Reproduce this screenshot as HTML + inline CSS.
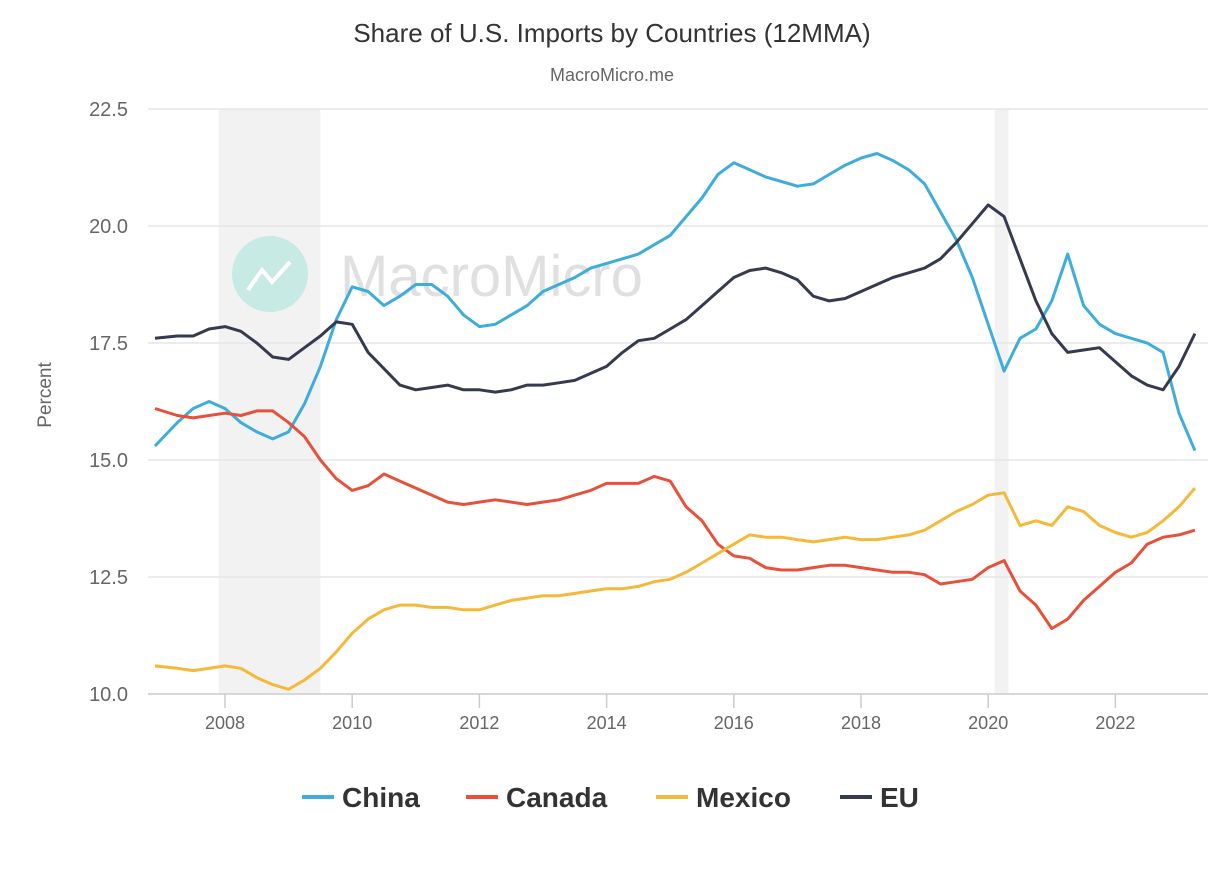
<!DOCTYPE html>
<html><head><meta charset="utf-8"><style>
body{margin:0;background:#fff;font-family:"Liberation Sans",Arial,sans-serif;}
svg text{font-family:"Liberation Sans",Arial,sans-serif;}
</style></head><body>
<svg id="chart" width="1224" height="880" viewBox="0 0 1224 880" xmlns="http://www.w3.org/2000/svg">
<text x="612" y="42" text-anchor="middle" font-size="26" fill="#333">Share of U.S. Imports by Countries (12MMA)</text>
<text x="612" y="81" text-anchor="middle" font-size="18" fill="#666">MacroMicro.me</text>
<g id="shades"></g>
<g>
<circle cx="270" cy="274" r="38" fill="#bfe9e3" opacity="0.85"/>
<polyline points="248,290 262,270 272,282 290,262" fill="none" stroke="#fff" stroke-width="4"/>
<text x="340" y="296" font-size="58" fill="#e0e0e0">MacroMicro</text>
</g>
<g id="grid"></g>
<g id="series"></g>
<text transform="translate(51,395) rotate(-90)" text-anchor="middle" font-size="19" fill="#666">Percent</text>
<g font-size="28" font-weight="bold" fill="#333">
<g><line x1="302" y1="797" x2="334" y2="797" stroke="#3eadd9" stroke-width="4"/><text x="342" y="807">China</text></g>
<g><line x1="466" y1="797" x2="498" y2="797" stroke="#e7513a" stroke-width="4"/><text x="506" y="807">Canada</text></g>
<g><line x1="656" y1="797" x2="688" y2="797" stroke="#f5b93a" stroke-width="4"/><text x="696" y="807">Mexico</text></g>
<g><line x1="840" y1="797" x2="872" y2="797" stroke="#363a4e" stroke-width="4"/><text x="880" y="807">EU</text></g>
</g>
</svg>
<script>
const yTicks=[10.0,12.5,15.0,17.5,20.0,22.5];
const xTicks=[2008,2010,2012,2014,2016,2018,2020,2022];
const recessions=[[2007.9,2009.5],[2020.1,2020.32]];
const dates=[2006.9];
for(let i=0;i<65;i++)dates.push(2007.25+i*0.25);
const china=[15.3,15.8,16.1,16.25,16.1,15.8,15.6,15.45,15.6,16.2,17.0,18.0,18.7,18.6,18.3,18.5,18.75,18.75,18.5,18.1,17.85,17.9,18.1,18.3,18.6,18.75,18.9,19.1,19.2,19.3,19.4,19.6,19.8,20.2,20.6,21.1,21.35,21.2,21.05,20.95,20.85,20.9,21.1,21.3,21.45,21.55,21.4,21.2,20.9,20.3,19.7,18.9,17.9,16.9,17.6,17.8,18.4,19.4,18.3,17.9,17.7,17.6,17.5,17.3,16.0,15.2];
const canada=[16.1,15.95,15.9,15.95,16.0,15.95,16.05,16.05,15.8,15.5,15.0,14.6,14.35,14.45,14.7,14.55,14.4,14.25,14.1,14.05,14.1,14.15,14.1,14.05,14.1,14.15,14.25,14.35,14.5,14.5,14.5,14.65,14.55,14.0,13.7,13.2,12.95,12.9,12.7,12.65,12.65,12.7,12.75,12.75,12.7,12.65,12.6,12.6,12.55,12.35,12.4,12.45,12.7,12.85,12.2,11.9,11.4,11.6,12.0,12.3,12.6,12.8,13.2,13.35,13.4,13.5];
const mexico=[10.6,10.55,10.5,10.55,10.6,10.55,10.35,10.2,10.1,10.3,10.55,10.9,11.3,11.6,11.8,11.9,11.9,11.85,11.85,11.8,11.8,11.9,12.0,12.05,12.1,12.1,12.15,12.2,12.25,12.25,12.3,12.4,12.45,12.6,12.8,13.0,13.2,13.4,13.35,13.35,13.3,13.25,13.3,13.35,13.3,13.3,13.35,13.4,13.5,13.7,13.9,14.05,14.25,14.3,13.6,13.7,13.6,14.0,13.9,13.6,13.45,13.35,13.45,13.7,14.0,14.4];
const eu=[17.6,17.65,17.65,17.8,17.85,17.75,17.5,17.2,17.15,17.4,17.65,17.95,17.9,17.3,16.95,16.6,16.5,16.55,16.6,16.5,16.5,16.45,16.5,16.6,16.6,16.65,16.7,16.85,17.0,17.3,17.55,17.6,17.8,18.0,18.3,18.6,18.9,19.05,19.1,19.0,18.85,18.5,18.4,18.45,18.6,18.75,18.9,19.0,19.1,19.3,19.65,20.05,20.45,20.2,19.3,18.4,17.7,17.3,17.35,17.4,17.1,16.8,16.6,16.5,17.0,17.7];
const NS="http://www.w3.org/2000/svg";
const L=148,R=1208;
const xs=y=>225+(y-2008)*63.6;
const ys=v=>694-(v-10)*46.8;
function mk(t,a,p){const e=document.createElementNS(NS,t);for(const k in a)e.setAttribute(k,a[k]);p.appendChild(e);return e;}
const sh=document.getElementById('shades');
recessions.forEach(r=>{const e=mk('rect',{x:xs(r[0]),y:ys(22.5),width:xs(r[1])-xs(r[0]),height:ys(10)-ys(22.5),fill:'#f2f2f2'},sh);

});
const g=document.getElementById('grid');
yTicks.forEach((t,i)=>{const l=mk('line',{x1:L,x2:R,y1:ys(t),y2:ys(t),stroke:i==0?'#ccc':'#e6e6e6','stroke-width':1.5},g);


const tx=mk('text',{x:128,y:ys(t)+7,'text-anchor':'end','font-size':20,fill:'#666'},g);tx.textContent=t.toFixed(1);

});
xTicks.forEach(t=>{const l=mk('line',{x1:xs(t),x2:xs(t),y1:694,y2:708,stroke:'#ccc','stroke-width':1.5},g);


const tx=mk('text',{x:xs(t),y:729,'text-anchor':'middle','font-size':18,fill:'#666'},g);tx.textContent=t;

});
const sg=document.getElementById('series');
[[china,'#3eadd9','china'],[canada,'#e7513a','canada'],[mexico,'#f5b93a','mexico'],[eu,'#363a4e','eu']].forEach(s=>{
const d=s[0].map((v,i)=>(i?'L':'M')+xs(dates[i]).toFixed(1)+','+ys(v).toFixed(1)).join(' ');
const p=mk('path',{d:d,fill:'none',stroke:s[1],'stroke-width':3,'stroke-linejoin':'round'},sg);

});
</script>
</body></html>
